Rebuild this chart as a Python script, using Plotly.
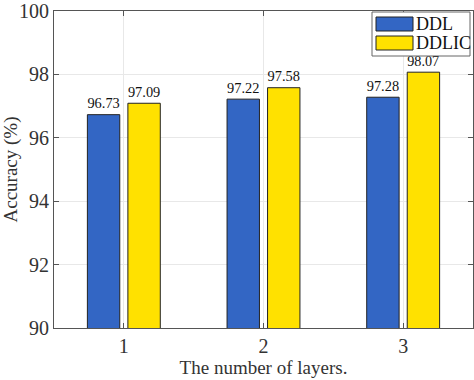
import plotly.graph_objects as go

layers = [1, 2, 3]
ddl = [96.73, 97.22, 97.28]
ddlic = [97.09, 97.58, 98.07]
yticks = [90, 92, 94, 96, 98, 100]
series_names = ["DDL", "DDLIC"]
colors = ["#3366c4", "#ffe100"]

font = "Liberation Serif"
W, H = 474, 380
L, R, T, B = 54, 1, 11, 52
pw, ph = W - L - R, H - T - B

def px(x):
    return (x - L) / pw

def py(y):
    return (H - B - y) / ph

fig = go.Figure()
for name, vals, col in zip(series_names, [ddl, ddlic], colors):
    fig.add_trace(go.Bar(x=layers, y=vals, name=name,
                         marker=dict(color=col, line=dict(color="#222", width=1)),
                         text=[f"{v:.2f}" for v in vals], textposition="outside", cliponaxis=False,
                         textfont=dict(family=font, size=17, color="#111"), showlegend=False))

# custom legend (MATLAB style wide patches)
shapes = [dict(type="rect", xref="paper", yref="paper", x0=px(372), x1=px(470), y0=py(56), y1=py(12),
               line=dict(color="#666", width=1), fillcolor="white", layer="above")]
annots = []
for i, (name, col) in enumerate(zip(series_names, colors)):
    y0 = 17 + i * 19
    shapes.append(dict(type="rect", xref="paper", yref="paper", x0=px(376), x1=px(413), y0=py(y0 + 14), y1=py(y0),
                       line=dict(color="#222", width=1), fillcolor=col, layer="above"))
    annots.append(dict(text=name, xref="paper", yref="paper", x=px(414), y=py(y0 + 7), xanchor="left", yanchor="middle",
                       showarrow=False, font=dict(family=font, size=18, color="#111")))

fig.update_layout(
    width=W, height=H, margin=dict(l=L, r=R, t=T, b=B),
    plot_bgcolor="white", paper_bgcolor="white",
    barmode="group", bargap=0.42, bargroupgap=0.2,
    font=dict(family=font, size=20, color="#333"),
    showlegend=False, shapes=shapes, annotations=annots,
    xaxis=dict(range=[0.5, 3.5], tickvals=layers, ticktext=[str(v) for v in layers], automargin=False,
               title=dict(text="The number of layers.", font=dict(size=19), standoff=2),
               showgrid=True, gridcolor="#e8e8e8", showline=True, linecolor="#555", mirror="ticks",
               ticks="inside", ticklen=5, tickcolor="#555", zeroline=False, ticklabeloverflow="allow"),
    yaxis=dict(range=[90, 100], tickvals=yticks, automargin=False,
               title=dict(text="Accuracy (%)", font=dict(size=19), standoff=4),
               showgrid=True, gridcolor="#e8e8e8", showline=True, linecolor="#555", mirror="ticks",
               ticks="inside", ticklen=5, tickcolor="#555", zeroline=False, ticklabeloverflow="allow"),
)
fig.write_html("out.html", config={"displayModeBar": False},
               post_script="document.body.style.margin='0';document.body.style.padding='0';")
